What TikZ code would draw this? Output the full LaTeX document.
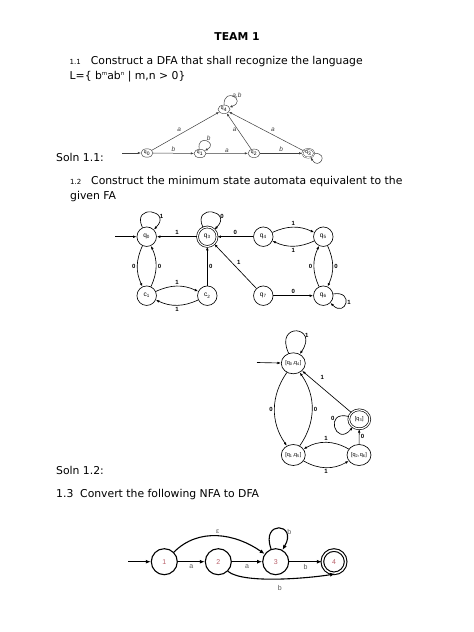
\documentclass[tikz,border=0pt]{standalone}
\usepackage{fontspec}
\setmainfont{DejaVu Sans}
\newfontfamily\arial{Liberation Sans}
\usetikzlibrary{arrows.meta,shapes.geometric}
\definecolor{numcol}{RGB}{185,95,105}
\newcommand\qsub[1]{q\textsubscript{#1}}
\newcommand\mysup[1]{\raisebox{3.8pt}{\fontsize{5.5}{5.5}\selectfont #1}}
\tikzset{
  txt/.style={anchor=base west, inner sep=0pt, font=\fontsize{10.82}{13}\selectfont},
  txtb/.style={txt, font=\bfseries\fontsize{10.82}{13}\selectfont},
  txts/.style={txt, font=\fontsize{7}{8}\selectfont},
  s1/.style={draw=black!75, ellipse, inner sep=0pt, minimum width=12pt, minimum height=8.5pt, line width=0.45pt, font=\arial\fontsize{5}{5}\selectfont},
  s1f/.style={s1, double, double distance=0.7pt},
  e1/.style={draw=black!75, line width=0.5pt, -{Latex[length=3pt,width=2.4pt]}},
  l1/.style={font=\arial\itshape\fontsize{6.5}{6.5}\selectfont, text=black!75, inner sep=1pt},
  s2/.style={draw, circle, minimum size=19.5pt, inner sep=0pt, line width=0.65pt, font=\arial\fontsize{6.5}{6.5}\selectfont},
  s2f/.style={s2, double, double distance=1.2pt},
  e2/.style={line width=0.65pt, -{Latex[length=3.5pt,width=2.6pt]}},
  l2/.style={font=\arial\bfseries\fontsize{6}{6}\selectfont, inner sep=1.5pt},
  s3/.style={draw, ellipse, minimum width=24pt, minimum height=21pt, inner sep=0pt, line width=0.65pt, font=\arial\fontsize{5.5}{5.5}\selectfont},
  s3f/.style={s3, double, double distance=1.2pt, minimum width=21pt, minimum height=19pt},
  s4/.style={draw, circle, minimum size=26pt, inner sep=0pt, line width=1.1pt, font=\arial\fontsize{7}{7}\selectfont, text=numcol},
  s4f/.style={s4, double, double distance=1.5pt, minimum size=23.3pt},
  e4/.style={line width=1.1pt, -{Latex[length=5pt,width=4pt]}},
  l4/.style={font=\arial\fontsize{7}{7}\selectfont, text=black!65, inner sep=2pt},
}
\begin{document}
\begin{tikzpicture}[x=1pt,y=1pt]
\useasboundingbox (0,0) rectangle (474,-632);
\fill[white] (0,0) rectangle (474,-632);

% ---------- texts ----------
\node[txtb, anchor=base] (title) at (237,-40.7) {TEAM 1};
\node[txts] (n11) at (69.5,-64.5) {1.1};
\node[txt] (q11) at (90.7,-64.5) {Construct a DFA that shall recognize the language};
\node[txt] (lang) at (69.5,-79.5) {L=\{ b\mysup{m}ab\mysup{n} | m,n > 0\}};
\node[txt] (sol11) at (56,-161) {Soln 1.1:};
\node[txts] (n12) at (70,-184) {1.2};
\node[txt] (q12) at (91,-184) {Construct the minimum state automata equivalent to the};
\node[txt] (q12b) at (70,-199) {given FA};
\node[txt] (sol12) at (56,-474.5) {Soln 1.2:};
\node[txt] (n13) at (56,-497) {1.3};
\node[txt] (q13) at (80,-497) {Convert the following NFA to DFA};

% ---------- diagram 1 ----------
\node[s1] (a0) at (147,-153) {\qsub{0}};
\node[s1] (a1) at (200,-153.5) {\qsub{1}};
\node[s1] (a2) at (254,-153.3) {\qsub{2}};
\node[s1f] (a3) at (308.3,-153.3) {\qsub{3}};
\node[s1] (a4) at (224,-109.3) {\qsub{4}};
\coordinate (i1) at (122,-153);
\draw[e1] (i1) -- (a0);
\draw[e1] (a0) -- node[l1,above] {b} (a1);
\draw[e1] (a1) -- node[l1,above] {a} (a2);
\draw[e1] (a2) -- node[l1,above] {b} (a3);
\draw[e1] (a0) -- node[l1,above left,pos=0.45] {a} (a4);
\draw[e1] (a2) -- node[l1,left,pos=0.55] {a} (a4);
\draw[e1] (a3) -- node[l1,above right,pos=0.45] {a} (a4);
\draw[e1] (a4) to[out=90,in=20,looseness=8] node[l1,right,pos=0.4,inner sep=1pt] {a,b} (a4);
\draw[e1] (a1) to[out=100,in=30,looseness=7] node[l1,above right,pos=0.5,inner sep=0.5pt] {b} (a1);
\draw[e1] (a3) to[out=0,in=-60,looseness=7] (a3);

% ---------- diagram 2 ----------
\node[s2] (b0) at (146.7,-236.7) {\qsub{0}};
\node[s2f] (b3) at (207.3,-236.7) {\qsub{3}};
\node[s2] (b4) at (263.3,-236.7) {\qsub{4}};
\node[s2] (b5) at (323.3,-236.7) {\qsub{5}};
\node[s2] (b1) at (146.7,-295.7) {c\textsubscript{1}};
\node[s2] (b2) at (207.3,-295.7) {c\textsubscript{2}};
\node[s2] (b7) at (263.3,-295.7) {\qsub{7}};
\node[s2] (b6) at (323.3,-295.7) {\qsub{6}};
\coordinate (i2) at (115,-236.7);
\draw[e2] (i2) -- (b0);
\draw[e2] (b0) to[out=115,in=45,looseness=6] node[l2,right,pos=0.72] {1} (b0);
\draw[e2] (b3) -- node[l2,above] {1} (b0);
\draw[e2] (b3) to[out=115,in=45,looseness=6] node[l2,right,pos=0.72] {0} (b3);
\draw[e2] (b4) -- node[l2,above] {0} (b3);
\draw[e2] (b4) to[bend left=25] node[l2,above] {1} (b5);
\draw[e2] (b5) to[bend left=25] node[l2,below] {1} (b4);
\draw[e2] (b0) to[bend right=25] node[l2,left] {0} (b1);
\draw[e2] (b1) to[bend right=25] node[l2,right] {0} (b0);
\draw[e2] (b1) to[bend left=25] node[l2,above] {1} (b2);
\draw[e2] (b2) to[bend left=25] node[l2,below] {1} (b1);
\draw[e2] (b2) -- node[l2,right] {0} (b3);
\draw[e2] (b7) -- node[l2,above right] {1} (b3);
\draw[e2] (b7) -- node[l2,above] {0} (b6);
\draw[e2] (b5) to[bend left=25] node[l2,right] {0} (b6);
\draw[e2] (b6) to[bend left=25] node[l2,left] {0} (b5);
\draw[e2] (b6) to[out=10,in=-45,looseness=6] node[l2,right] {1} (b6);

% ---------- diagram 3 ----------
\node[s3] (c0) at (293.3,-363.3) {[\qsub{0},\qsub{4}]};
\node[s3f] (c3) at (359.3,-419.3) {[\qsub{3}]};
\node[s3] (c1) at (293.3,-455) {[\qsub{1},\qsub{5}]};
\node[s3] (c2) at (359,-455) {[\qsub{2},\qsub{6}]};
\coordinate (i3) at (257,-362.5);
\draw[e2] (i3) -- (c0);
\draw[e2] (c0) to[out=115,in=55,looseness=8] node[l2,right,pos=0.7] {1} (c0);
\draw[e2] (c3) -- node[l2,above right,pos=0.6,xshift=-3pt,yshift=6pt] {1} (c0);
\draw[e2] (c3) to[out=165,in=230,looseness=6] node[l2,left,pos=0.25] {0} (c3);
\draw[e2] (c0) to[bend right=35] node[l2,left] {0} (c1);
\draw[e2] (c1) to[bend right=35] node[l2,right] {0} (c0);
\draw[e2] (c2) to[bend right=30] node[l2,above] {1} (c1);
\draw[e2] (c1) to[bend right=30] node[l2,below] {1} (c2);
\draw[e2] (c2) -- node[l2,right] {0} (c3);

% ---------- diagram 4 ----------
\node[s4] (d1) at (164.3,-561.7) {1};
\node[s4] (d2) at (218.3,-561.7) {2};
\node[s4] (d3) at (275.7,-561.7) {3};
\node[s4f] (d4) at (334,-561.7) {4};
\coordinate (i4) at (128,-561.7);
\draw[e4] (i4) -- (d1);
\draw[e4] (d1) -- node[l4,below] {a} (d2);
\draw[e4] (d2) -- node[l4,below] {a} (d3);
\draw[e4] (d3) -- node[l4,below] {b} (d4);
\draw[e4] (d1) to[out=45,in=145] node[l4,above] {ε} (d3);
\draw[e4] (d3) to[out=110,in=60,looseness=7] node[l4,right,pos=0.7] {b} (d3);
\draw[e4] (d2.-45) to[out=-40,in=190,looseness=0.5] node[l4,below=4pt] {b} (d4.-85);
\end{tikzpicture}
\end{document}
